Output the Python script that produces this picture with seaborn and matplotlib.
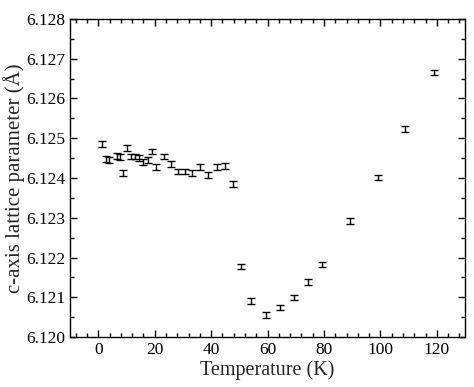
import numpy as np
import pandas as pd
import matplotlib
matplotlib.use("Agg")
import matplotlib.pyplot as plt
import seaborn as sns
from matplotlib.ticker import MultipleLocator

# data
temperature = [1.2, 2.7, 3.6, 6.5, 7.6, 8.6, 10.0, 11.4, 12.9, 14.4, 15.8, 17.6,
               19.0, 20.5, 23.1, 25.8, 28.4, 30.8, 33.2, 36.0, 39.0, 42.2, 44.9,
               47.8, 50.7, 54.3, 59.4, 64.4, 69.4, 74.4, 79.4, 89.2, 99.0, 108.9, 118.9]
c_param = [6.12485, 6.12448, 6.12445, 6.12456, 6.12453, 6.12412, 6.12476, 6.12454,
           6.12454, 6.12450, 6.12441, 6.12445, 6.12467, 6.12428, 6.12454, 6.12435,
           6.12416, 6.12416, 6.12412, 6.12428, 6.12408, 6.12428, 6.12430,
           6.12385, 6.12177, 6.12091, 6.12055, 6.12074, 6.12099, 6.12138, 6.12183,
           6.12292, 6.12401, 6.12523, 6.12665]
c_err = [0.00007] * len(temperature)

df = pd.DataFrame({"T": temperature, "c": c_param, "err": c_err})

sns.set_theme(style="ticks")
plt.rcParams["font.family"] = ["Liberation Serif", "DejaVu Serif"]

fig = plt.figure(figsize=(4.74, 3.87), dpi=100)
ax = fig.add_axes([0.148, 0.129, 0.833, 0.822])

ax.errorbar(df["T"], df["c"], yerr=df["err"], fmt="none", ecolor="black",
            elinewidth=1.0, capsize=2.8, capthick=1.0)

ax.set_xlim(-10, 130)
ax.set_ylim(6.120, 6.128)
ax.xaxis.set_major_locator(MultipleLocator(20))
ax.xaxis.set_minor_locator(MultipleLocator(4))
ax.yaxis.set_major_locator(MultipleLocator(0.001))
ax.yaxis.set_minor_locator(MultipleLocator(0.0005))
ax.yaxis.set_major_formatter(matplotlib.ticker.FormatStrFormatter("%.3f"))

ax.tick_params(which="both", direction="in", top=True, right=True,
               colors="black", labelsize=12.5, width=1.0)
ax.tick_params(which="major", length=5)
ax.tick_params(which="minor", length=3)
for s in ax.spines.values():
    s.set_linewidth(1.0)
    s.set_color("black")

ax.set_xlabel("Temperature (K)", fontsize=14.5, labelpad=2)
ax.set_ylabel("c-axis lattice parameter (Å)", fontsize=15, labelpad=0.5)

fig.savefig("out.png", dpi=100)
